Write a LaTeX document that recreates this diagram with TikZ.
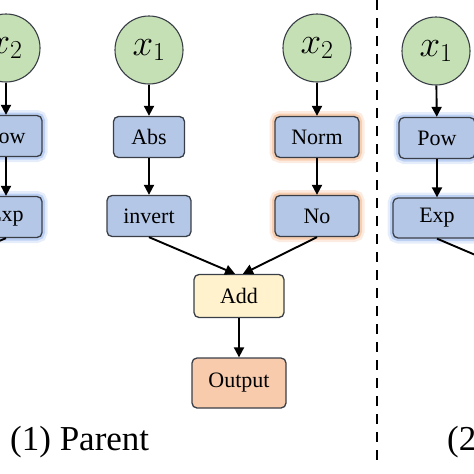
\documentclass[tikz,border=0pt]{standalone}
\usepackage{fix-cm}
\usepackage{fontspec}
\setmainfont{Liberation Serif}
\usetikzlibrary{arrows.meta,calc,positioning}
\definecolor{vargreen}{HTML}{C5E0B4}
\definecolor{opblue}{HTML}{B4C7E7}
\definecolor{addyellow}{HTML}{FFF2CC}
\definecolor{outorange}{HTML}{F8CBAD}
\definecolor{haloblue}{HTML}{6F9BE8}
\definecolor{halored}{HTML}{F4B183}
\definecolor{edgegray}{HTML}{3A3F47}
\tikzset{varnode/.style={circle,draw=edgegray,line width=1.1pt,fill=vargreen,minimum size=68pt,inner sep=0pt,font=\fontsize{37}{39}\selectfont},
  opbox/.style={draw=edgegray,line width=1.3pt,rounded corners=5pt,fill=opblue,minimum height=41pt,minimum width=72pt,inner sep=2pt,font=\fontsize{22}{24}\selectfont},
  glowblue/.style={opbox,preaction={draw=haloblue,draw opacity=0.18,line width=11pt},preaction={draw=haloblue,draw opacity=0.35,line width=6pt}},
  glowred/.style={opbox,preaction={draw=halored,draw opacity=0.25,line width=11pt},preaction={draw=halored,draw opacity=0.5,line width=6pt}},
  arr/.style={-{Triangle[length=10pt,width=10pt]},line width=1.9pt}}

\begin{document}
\begin{tikzpicture}[x=1pt,y=-1pt]
\useasboundingbox (0,0) rectangle (474,474);
\clip (0,0) rectangle (474,474);
% left panel, cut off
\node[varnode] (x2L) at (6,48) {$x_2$};
\node[glowblue] (powL) at (6,136) {Pow};
\node[glowblue] (expL) at (6,217) {Exp};
\coordinate (mergeL) at (-80,274);
% (1) Parent
\node[varnode] (x1) at (149,50) {$x_1$};
\node[opbox,minimum width=71pt] (abs) at (149,137) {Abs};
\node[opbox,minimum width=84pt] (inv) at (149,216) {invert};
\node[varnode] (x2) at (317,48) {$x_2$};
\node[glowred,minimum width=84pt] (norm) at (317,137) {Norm};
\node[glowred,minimum width=84pt] (no) at (317,216) {No};
\node[opbox,fill=addyellow,minimum width=90pt,minimum height=43pt] (add) at (239,296) {Add};
\node[opbox,fill=outorange,minimum width=94pt,minimum height=50pt] (out) at (239,383) {Output};
% right panel, cut off
\node[varnode] (x1R) at (436,51) {$x_1$};
\node[glowblue,minimum width=76pt] (powR) at (437,138) {Pow};
\node[glowblue,minimum width=88pt,minimum height=40pt] (expR) at (437,218) {Exp};
\coordinate (mergeR) at (520,274);

\draw[arr] (x2L) -- (powL);
\draw[arr] (powL) -- (expL);
\draw[arr] (expL.south) -- (mergeL);
\draw[arr] (x1) -- (abs);
\draw[arr] (abs) -- (inv);
\draw[arr] (x2) -- (norm);
\draw[arr] (norm) -- (no);
\draw[arr] (inv.south) -- (add.100);
\draw[arr] (no.south) -- (add.80);
\draw[arr] (add) -- (out);
\draw[arr] (x1R) -- (powR);
\draw[arr] (powR) -- (expR);
\draw[arr] (expR.south) -- (mergeR);

\coordinate (sepT) at (377,0);
\coordinate (sepB) at (377,462);
\draw[line width=2.6pt,dash pattern=on 10pt off 8pt] (sepT) -- (sepB);
\node[anchor=base west,inner sep=0pt,font=\fontsize{35}{37}\selectfont] (cap1) at (10,450) {(1) Parent};
\node[anchor=base west,inner sep=0pt,font=\fontsize{35}{37}\selectfont] (cap2) at (447,450) {(2};
\end{tikzpicture}
\end{document}
